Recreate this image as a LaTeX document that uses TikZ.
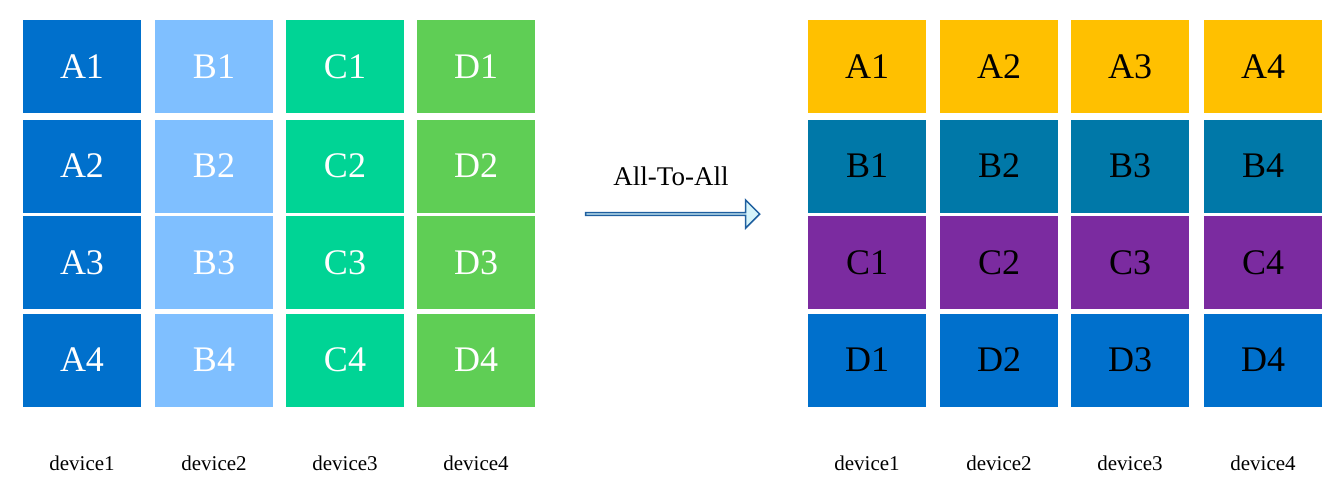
\documentclass[tikz,border=0pt]{standalone}
\usepackage{fontspec}
\setmainfont{Liberation Serif}
\usetikzlibrary{shapes.arrows}
\definecolor{cA}{HTML}{0070CC}
\definecolor{cB}{HTML}{7FBFFF}
\definecolor{cC}{HTML}{00D495}
\definecolor{cD}{HTML}{5FCE55}
\definecolor{rY}{HTML}{FFC000}
\definecolor{rT}{HTML}{0078A8}
\definecolor{rP}{HTML}{7B2BA0}
\definecolor{arrF}{HTML}{D6F4FA}
\definecolor{arrD}{HTML}{1F5F9F}
\begin{document}
\begin{tikzpicture}[x=1pt,y=-1pt,
  cell/.style={minimum width=118pt,minimum height=93pt,inner sep=0pt,font=\fontsize{36}{36}\selectfont},
  dev/.style={font=\fontsize{21}{21}\selectfont}]
\useasboundingbox (0,0) rectangle (1340,496);
\foreach \c/\x/\col in {1/82/cA,2/214/cB,3/345/cC,4/476/cD}{
  \foreach \r/\y in {1/66.5,2/166,3/262.5,4/360}{
    \pgfmathsetmacro{\L}{{"A","B","C","D"}[\c-1]}
    \node[cell,fill=\col,text=white] (l\c\r) at (\x,\y) {\L\r};
  }
  \node[dev] (ld\c) at (\x,463) {device\c};
}
\foreach \c/\x in {1/867,2/999,3/1130,4/1263}{
  \foreach \r/\y/\col in {1/66.5/rY,2/166/rT,3/262.5/rP,4/360/cA}{
    \pgfmathsetmacro{\L}{{"A","B","C","D"}[\r-1]}
    \node[cell,fill=\col,text=black] (r\c\r) at (\x,\y) {\L\c};
  }
  \node[dev] (rd\c) at (\x,463) {device\c};
}
\node[single arrow,draw=arrD,line width=1.5pt,fill=arrF,minimum height=174pt,minimum width=28pt,
  single arrow head extend=7pt,single arrow tip angle=90,inner sep=0pt] (arr) at (672,214) {};
\node[font=\fontsize{27}{27}\selectfont] (lab) at (671,176) {All-To-All};
\end{tikzpicture}
\end{document}
